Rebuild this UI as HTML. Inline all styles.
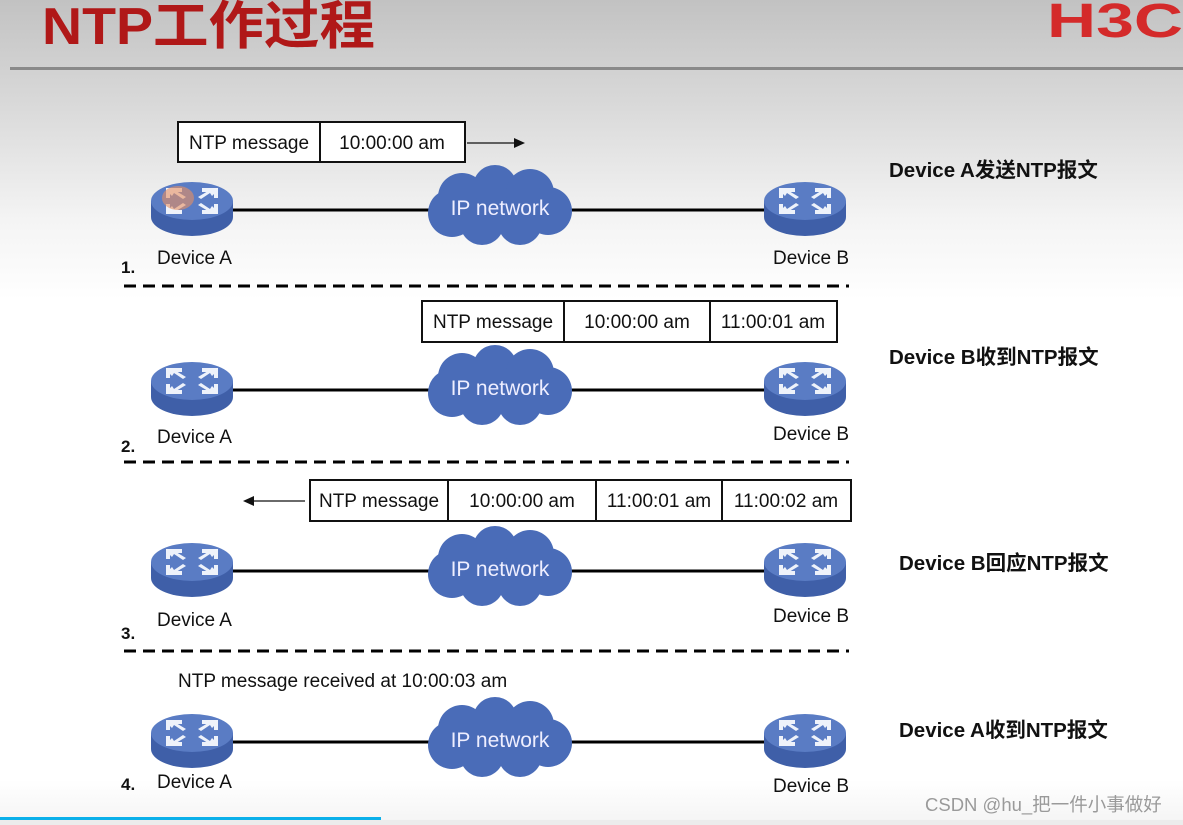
<!DOCTYPE html>
<html><head><meta charset="utf-8"><style>
html,body{margin:0;padding:0;width:1183px;height:825px;overflow:hidden}
body{background:linear-gradient(#c2c2c2 0px,#d8d8d8 100px,#f4f4f4 220px,#fff 300px,#fff 780px,#f4f4f4 825px)}
svg{position:absolute;left:0;top:0}
text{font-family:"Liberation Sans","Noto Sans CJK SC",sans-serif}
</style></head><body>
<svg width="1183" height="825" viewBox="0 0 1183 825">
<defs>
<g id="rt">
<path d="M-41,0 L-41,16 A41,19 0 0 0 41,16 L41,0 Z" fill="#3f5fa8"/>
<ellipse cx="0" cy="0" rx="41" ry="19" fill="#5a7cc4"/>
<g fill="#eef2fa" stroke="none">
<path d="M-25,-10 L-14,-13 L-16,-10 L-6,-4 L-9,-2 L-18,-8 L-20,-5 Z"/>
<path d="M25,-10 L14,-13 L16,-10 L6,-4 L9,-2 L18,-8 L20,-5 Z"/>
<path d="M-25,10 L-14,13 L-16,10 L-6,4 L-9,2 L-18,8 L-20,5 Z"/>
<path d="M25,10 L14,13 L16,10 L6,4 L9,2 L18,8 L20,5 Z"/>
<path d="M-26,-13 L-10,-13 L-10,-9 L-22,-9 L-22,-3 L-26,-3 Z"/>
<path d="M26,-13 L10,-13 L10,-9 L22,-9 L22,-3 L26,-3 Z"/>
<path d="M-26,13 L-10,13 L-10,9 L-22,9 L-22,3 L-26,3 Z"/>
<path d="M26,13 L10,13 L10,9 L22,9 L22,3 L26,3 Z"/>
</g>
</g>
<g id="cl">
<g fill="#4a6cb8">
<ellipse cx="0" cy="0" rx="68" ry="26"/>
<circle cx="-38" cy="-10" r="24"/>
<circle cx="-5" cy="-20" r="22"/>
<circle cx="30" cy="-14" r="24"/>
<circle cx="48" cy="4" r="24"/>
<circle cx="-48" cy="6" r="24"/>
<circle cx="-18" cy="16" r="22"/>
<circle cx="20" cy="16" r="22"/>
</g>
<text x="0" y="8" font-size="21" fill="#eef" text-anchor="middle">IP network</text>
</g>
</defs>

<text x="42" y="44" font-size="52" font-weight="bold" fill="#b01818" textLength="333" lengthAdjust="spacingAndGlyphs">NTP工作过程</text>
<text x="1047" y="37" font-size="48" font-weight="bold" fill="#d42a2a" textLength="136" lengthAdjust="spacingAndGlyphs">H3C</text>
<rect x="10" y="67" width="1173" height="3" fill="#8a8a8a"/>

<g stroke="#000" stroke-width="3">
<line x1="233" y1="210" x2="765" y2="210"/>
<line x1="233" y1="390" x2="765" y2="390"/>
<line x1="233" y1="571" x2="765" y2="571"/>
<line x1="233" y1="742" x2="765" y2="742"/>
</g>
<g stroke="#000" stroke-width="3" stroke-dasharray="12,7">
<line x1="124" y1="286" x2="849" y2="286"/>
<line x1="124" y1="462" x2="849" y2="462"/>
<line x1="124" y1="651" x2="849" y2="651"/>
</g>

<use href="#rt" x="192" y="201"/><use href="#rt" x="805" y="201"/>
<use href="#rt" x="192" y="381"/><use href="#rt" x="805" y="381"/>
<use href="#rt" x="192" y="562"/><use href="#rt" x="805" y="562"/>
<use href="#rt" x="192" y="733"/><use href="#rt" x="805" y="733"/>
<ellipse cx="178" cy="198" rx="16" ry="12" fill="#e89060" opacity="0.6"/>

<use href="#cl" x="500" y="207"/>
<use href="#cl" x="500" y="387"/>
<use href="#cl" x="500" y="568"/>
<use href="#cl" x="500" y="739"/>

<g font-size="19" fill="#111">
<text x="157" y="264">Device A</text><text x="773" y="264">Device B</text>
<text x="157" y="443">Device A</text><text x="773" y="440">Device B</text>
<text x="157" y="626">Device A</text><text x="773" y="622">Device B</text>
<text x="157" y="788">Device A</text><text x="773" y="792">Device B</text>
</g>
<g font-size="17" font-weight="bold" fill="#111">
<text x="121" y="273">1.</text><text x="121" y="452">2.</text>
<text x="121" y="639">3.</text><text x="121" y="790">4.</text>
</g>

<g fill="#fff" stroke="#111" stroke-width="2">
<rect x="178" y="122" width="287" height="40"/><line x1="320" y1="122" x2="320" y2="162"/>
<rect x="422" y="301" width="415" height="41"/><line x1="564" y1="301" x2="564" y2="342"/><line x1="710" y1="301" x2="710" y2="342"/>
<rect x="310" y="480" width="541" height="41"/><line x1="448" y1="480" x2="448" y2="521"/><line x1="596" y1="480" x2="596" y2="521"/><line x1="722" y1="480" x2="722" y2="521"/>
</g>
<g font-size="19" fill="#111" text-anchor="middle">
<text x="249" y="149">NTP message</text><text x="392" y="149">10:00:00 am</text>
<text x="493" y="328">NTP message</text><text x="637" y="328">10:00:00 am</text><text x="773" y="328">11:00:01 am</text>
<text x="379" y="507">NTP message</text><text x="522" y="507">10:00:00 am</text><text x="659" y="507">11:00:01 am</text><text x="786" y="507">11:00:02 am</text>
</g>
<line x1="467" y1="143" x2="515" y2="143" stroke="#111" stroke-width="1.3"/>
<path d="M525,143 L514,138 L514,148 Z" fill="#111"/>
<line x1="305" y1="501" x2="252" y2="501" stroke="#111" stroke-width="1.3"/>
<path d="M243,501 L254,496 L254,506 Z" fill="#111"/>
<text x="178" y="687" font-size="19" fill="#111">NTP message received at 10:00:03 am</text>

<g font-size="20.5" font-weight="bold" fill="#111">
<text x="889" y="177">Device A发送NTP报文</text>
<text x="889" y="364">Device B收到NTP报文</text>
<text x="899" y="570">Device B回应NTP报文</text>
<text x="899" y="737">Device A收到NTP报文</text>
</g>

<text x="925" y="811" font-size="18.5" fill="#9a9a9a">CSDN @hu_把一件小事做好</text>
<rect x="0" y="817" width="381" height="3" fill="#0bb0ea"/>
<rect x="0" y="820" width="1183" height="5" fill="#ececec"/>
</svg>
</body></html>
